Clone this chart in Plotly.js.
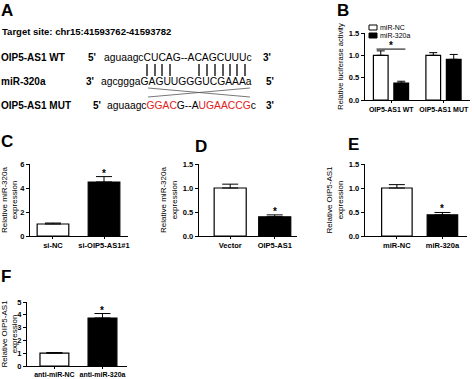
<!DOCTYPE html>
<html><head><meta charset="utf-8">
<script src="https://cdn.plot.ly/plotly-3.0.1.min.js"></script>
<style>html,body{margin:0;padding:0;background:#fff}#chart{width:474px;height:379px}</style>
</head><body><div id="chart"></div>
<script>
// ---- data ----
const bCats = ['OIP5-AS1 WT', 'OIP5-AS1 MUT'];
const bNC = [1.0, 1.0];
const bNCerr = [0.10, 0.06];
const b320 = [0.38, 0.91];
const b320err = [0.04, 0.11];
const bSeries = ['miR-NC', 'miR-320a'];
const bSigY = 1.14;

const cCats = ['si-NC', 'si-OIP5-AS1#1'];
const cVals = [1.0, 4.5];
const cErr = [0.08, 0.45];

const dCats = ['Vector', 'OIP5-AS1'];
const dVals = [1.0, 0.40];
const dErr = [0.08, 0.04];

const eCats = ['miR-NC', 'miR-320a'];
const eVals = [1.0, 0.44];
const eErr = [0.07, 0.05];

const fCats = ['anti-miR-NC', 'anti-miR-320a'];
const fVals = [1.0, 3.75];
const fErr = [0.05, 0.35];

const seqRows = [
  {label: 'OIP5-AS1 WT', e1: "5'", seq: 'aguaagcCUCAG--ACAGCUUUc', e2: "3'"},
  {label: 'miR-320a', e1: "3'", seq: 'agcgggaGAGUUGGGUCGAAAa', e2: "5'"},
  {label: 'OIP5-AS1 MUT', e1: "5'", seq: 'aguaagc<span style="color:#e3201b">GGAC</span>G--A<span style="color:#e3201b">UGAACCG</span>c', e2: "3'"}
];
const targetSite = 'Target site: chr15:41593762-41593782';

// ---- layout helpers ----
const W = 474, H = 379;
const px = x => x / W;
const py = y => 1 - y / H;
const FONT = 'Liberation Sans, Arial, sans-serif';

function yAx(dom, range, dtick, fmt, title, tsize, anchor) {
  return {domain: dom, range: range, dtick: dtick, tick0: 0, tickformat: fmt, anchor: anchor,
    showline: true, linecolor: 'black', linewidth: 1.2, ticks: 'outside', ticklen: 3, tickwidth: 1,
    tickcolor: 'black', showgrid: false, zeroline: false, fixedrange: true,
    tickfont: {family: FONT, size: 7.5, color: 'black', weight: 'bold'},
    title: {text: title, font: {family: FONT, size: tsize, color: 'black'}, standoff: 4}};
}
function xAx(dom, range, anchor, fs) {
  return {domain: dom, range: range, type: 'category', anchor: anchor, tickangle: 0,
    showline: true, linecolor: 'black', linewidth: 1.2, ticks: 'outside', ticklen: 2, tickwidth: 1,
    tickcolor: 'black', showgrid: false, zeroline: false, fixedrange: true,
    tickfont: {family: FONT, size: fs || 7.5, color: 'black', weight: 'bold'}};
}
function errs(arr) {
  return {type: 'data', symmetric: false, array: arr, arrayminus: arr.map(() => 0),
    color: 'black', thickness: 1, width: 4};
}

const bW = 0.28, bOffNC = -0.34, bOff320 = 0.05;

const traces = [
  {type: 'bar', name: bSeries[0], x: bCats, y: bNC, width: bW, offset: bOffNC,
   marker: {color: 'white', line: {color: 'black', width: 1.2}}, error_y: errs(bNCerr),
   xaxis: 'x', yaxis: 'y', showlegend: false},
  {type: 'bar', name: bSeries[1], x: bCats, y: b320, width: bW, offset: bOff320,
   marker: {color: 'black', line: {color: 'black', width: 1.2}}, error_y: errs(b320err),
   xaxis: 'x', yaxis: 'y', showlegend: false},
  {type: 'bar', x: cCats, y: cVals, width: 0.62,
   marker: {color: ['white', 'black'], line: {color: 'black', width: 1.2}}, error_y: Object.assign(errs(cErr), {width: 8}),
   xaxis: 'x2', yaxis: 'y2', showlegend: false},
  {type: 'bar', x: dCats, y: dVals, width: 0.72,
   marker: {color: ['white', 'black'], line: {color: 'black', width: 1.2}}, error_y: Object.assign(errs(dErr), {width: 8}),
   xaxis: 'x3', yaxis: 'y3', showlegend: false},
  {type: 'bar', x: eCats, y: eVals, width: 0.67,
   marker: {color: ['white', 'black'], line: {color: 'black', width: 1.2}}, error_y: Object.assign(errs(eErr), {width: 8}),
   xaxis: 'x4', yaxis: 'y4', showlegend: false},
  {type: 'bar', x: fCats, y: fVals, width: 0.6,
   marker: {color: ['white', 'black'], line: {color: 'black', width: 1.2}}, error_y: Object.assign(errs(fErr), {width: 8}),
   xaxis: 'x5', yaxis: 'y5', showlegend: false}
];

const ann = [];
const shapes = [];
function txt(x, y, text, size, opts) {
  ann.push(Object.assign({xref: 'paper', yref: 'paper', x: px(x), y: py(y), text: text, showarrow: false,
    xanchor: 'left', yanchor: 'middle', borderpad: 0, font: {family: FONT, size: size, color: 'black'}}, opts || {}));
}
// panel letters
txt(0, 10, '<b>A</b>', 17);
txt(336, 10.5, '<b>B</b>', 17);
txt(0, 142, '<b>C</b>', 17);
txt(194, 146, '<b>D</b>', 17);
txt(347, 144, '<b>E</b>', 17);
txt(0, 276, '<b>F</b>', 17);

// panel A text
txt(1, 31, '<b>' + targetSite + '</b>', 9.5);
const rowY = [58, 82, 106];
const e1X = [87, 85, 92], seqX = [103, 100, 106], e2X = [262, 265, 265];
seqRows.forEach((r, i) => {
  txt(0, rowY[i], '<b>' + r.label + '</b>', 10);
  txt(e1X[i], rowY[i], '<b>' + r.e1 + '</b>', 10);
  txt(seqX[i], rowY[i], r.seq, 10.3);
  txt(e2X[i], rowY[i], '<b>' + r.e2 + '</b>', 10);
});
// pairing bars
[147, 155, 162, 170, 199, 207, 215, 223, 230, 237, 245].forEach(x => {
  shapes.push({type: 'line', xref: 'paper', yref: 'paper', x0: px(x), x1: px(x), y0: py(64), y1: py(76),
    line: {color: 'black', width: 1.3}});
});
// crossing lines
shapes.push({type: 'line', xref: 'paper', yref: 'paper', x0: px(148), y0: py(97), x1: px(250), y1: py(88), line: {color: '#555', width: 0.8}});
shapes.push({type: 'line', xref: 'paper', yref: 'paper', x0: px(148), y0: py(88), x1: px(250), y1: py(97), line: {color: '#555', width: 0.8}});

// legend for B
shapes.push({type: 'rect', xref: 'paper', yref: 'paper', x0: px(369), x1: px(377), y0: py(30), y1: py(25), fillcolor: 'white', line: {color: 'black', width: 1}});
shapes.push({type: 'rect', xref: 'paper', yref: 'paper', x0: px(369), x1: px(377), y0: py(38), y1: py(33), fillcolor: 'black', line: {color: 'black', width: 1}});
txt(379, 27.5, bSeries[0], 7);
txt(379, 35.5, bSeries[1], 7);

// significance in B
const sx0 = 0 + bOffNC + bW / 2, sx1 = 0 + bOff320 + bW / 2;
shapes.push({type: 'line', xref: 'x', yref: 'y', x0: sx0 - 0.08, x1: sx1 + 0.08, y0: bSigY, y1: bSigY, line: {color: 'black', width: 1}});
ann.push({xref: 'x', yref: 'y', x: (sx0 + sx1) / 2, y: bSigY, text: '<b>*</b>', showarrow: false, yanchor: 'bottom', yshift: -4,
  font: {family: FONT, size: 10, color: 'black'}});

// stars C-F
[['x2', 'y2', cVals, cErr], ['x3', 'y3', dVals, dErr], ['x4', 'y4', eVals, eErr], ['x5', 'y5', fVals, fErr]].forEach(p => {
  ann.push({xref: p[0], yref: p[1], x: 1, y: p[2][1] + p[3][1], text: '<b>*</b>', showarrow: false, yanchor: 'bottom', yshift: -4,
    font: {family: FONT, size: 10, color: 'black'}});
});

const xF = xAx([px(27), px(127)], [-0.57, 1.51], 'y5', 7);
xF.ticklen = 1.5;

const layout = {
  width: W, height: H, margin: {l: 0, r: 0, t: 0, b: 0}, paper_bgcolor: 'white', plot_bgcolor: 'rgba(0,0,0,0)',
  showlegend: false, barmode: 'overlay',
  xaxis: xAx([px(365), px(470)], [-0.5, 1.5], 'y', 7),
  yaxis: yAx([py(100), py(33)], [0, 1.5], 0.5, '.1f', 'Relative luciferase activity', 7.5, 'x'),
  xaxis2: xAx([px(30), px(128)], [-0.45, 1.47], 'y2'),
  yaxis2: yAx([py(236), py(164)], [0, 6], 2, 'd', 'Relative miR-320a<br>expression', 8, 'x2'),
  xaxis3: xAx([px(199), px(297)], [-0.7, 1.5], 'y3'),
  yaxis3: yAx([py(236), py(164)], [0, 1.5], 0.5, '.1f', 'Relative miR-320a<br>expression', 8, 'x3'),
  xaxis4: xAx([px(365), px(467)], [-0.7, 1.54], 'y4'),
  yaxis4: yAx([py(236), py(164)], [0, 1.5], 0.5, '.1f', 'Relative OIP5-AS1<br>expression', 8, 'x4'),
  xaxis5: xF,
  yaxis5: yAx([py(366), py(302)], [0, 5], 1, 'd', 'Relative OIP5-AS1<br>expression', 8, 'x5'),
  annotations: ann, shapes: shapes
};

Plotly.newPlot('chart', traces, layout, {staticPlot: true, displayModeBar: false});
</script></body></html>
